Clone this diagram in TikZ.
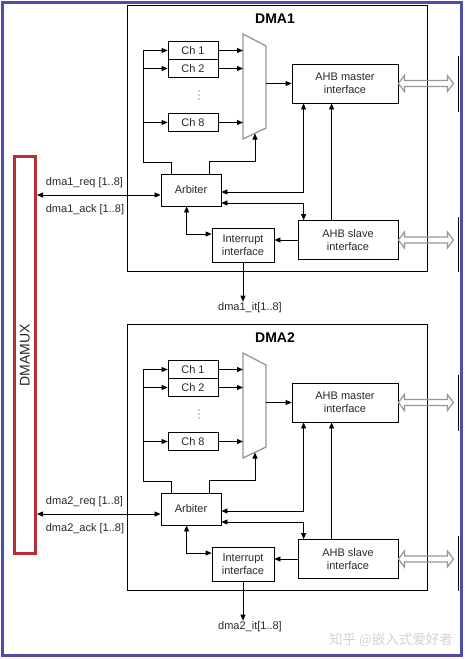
\documentclass[tikz,border=0pt]{standalone}
\usepackage{fontspec}
\setmainfont{Liberation Sans}
\newfontfamily\cjkfont{Noto Sans CJK SC}
\definecolor{myBlue}{RGB}{78,78,168}
\definecolor{myRed}{RGB}{185,45,55}
\definecolor{myGray}{RGB}{150,150,150}
\definecolor{myText}{RGB}{40,40,40}
\usetikzlibrary{arrows.meta,positioning}

\begin{document}
\begin{tikzpicture}[x=1pt,y=-1pt,
    font=\fontsize{11}{13}\selectfont,
    every node/.style={text=myText},
    blk/.style={draw,line width=0.8pt,inner sep=0pt,align=center},
    arr/.style={line width=0.8pt,-{Triangle[length=6pt,width=5pt]}},
    darr/.style={line width=0.8pt,{Triangle[length=6pt,width=5pt]}-{Triangle[length=6pt,width=5pt]}},
    bus/.style={draw=myGray,line width=1.2pt},
    lbl/.style={inner sep=1pt}]
                \useasboundingbox (0,0) rectangle (464,659);
                \draw[myBlue,line width=3pt] (2.5,2.5) rectangle (461,655.5);

                % DMAMUX
                \node[draw=myRed,line width=3pt,minimum width=21pt,minimum height=397pt,inner sep=0pt] (dmamux) at (25,355) {};
                \node[rotate=90,font=\fontsize{14}{16}\selectfont] (muxname) at (dmamux.center) {DMAMUX};

                \foreach \i/\dy in {1/0,2/319}{
                \begin{scope}[yshift=-\dy pt]
                    \node[blk,minimum width=300pt,minimum height=266pt] (dma-\i) at (277,138) {};
                    \node[font=\bfseries\fontsize{14}{16}\selectfont,text=black] (dmaname-\i) at (275,19) {DMA\i};

                    % channels
                    \node[blk,minimum width=50pt,minimum height=18pt] (ch1-\i) at (193,50.5) {Ch 1};
                    \node[blk,minimum width=50pt,minimum height=18pt] (ch2-\i) at (193,68.5) {Ch 2};
                    \fill[myText] (199,91) circle (0.6) (199,95) circle (0.6) (199,99) circle (0.6);
                    \node[blk,minimum width=50pt,minimum height=18pt] (ch8-\i) at (193,122.5) {Ch 8};

                    % multiplexer
                    \draw[draw=myGray,line width=1.3pt] (243,34) -- (266,46) -- (266,128) -- (243,139) -- cycle;
                    \coordinate (muxin-\i) at (243,84);
                    \coordinate (muxout-\i) at (266,83.5);
                    \coordinate (muxsel-\i) at (255,133.5);

                    \node[blk,minimum width=106pt,minimum height=39pt] (ahbm-\i) at (345,83.5) {AHB master\\interface};
                    \node[blk,minimum width=60pt,minimum height=32pt] (arb-\i) at (191,190) {Arbiter};
                    \node[blk,minimum width=62pt,minimum height=34pt] (intr-\i) at (243,245) {Interrupt\\interface};
                    \node[blk,minimum width=100pt,minimum height=39pt] (ahbs-\i) at (348,240) {AHB slave\\interface};

                    \node[lbl] (req-\i) at (84.5,183) {dma\i\_req [1..8]};
                    \node[lbl] (ack-\i) at (85,210) {dma\i\_ack [1..8]};
                    \node[lbl] (it-\i) at (250,308) {dma\i\_it[1..8]};

                    % arbiter to channels
                    \coordinate (bus-\i) at (143,162);
                    \draw[arr] ([xshift=11pt]arb-\i.north west) |- (bus-\i) |- (ch1-\i.west);
                    \draw[arr] (bus-\i |- ch2-\i.west) -- (ch2-\i.west);
                    \draw[arr] (bus-\i |- ch8-\i.west) -- (ch8-\i.west);

                    % channels to mux
                    \draw[arr] (ch1-\i.east) -- (ch1-\i.east -| muxin-\i);
                    \draw[arr] (ch2-\i.east) -- (ch2-\i.east -| muxin-\i);
                    \draw[arr] (ch8-\i.east) -- (ch8-\i.east -| muxin-\i);
                    \draw[arr] (muxout-\i) -- (ahbm-\i.west);
                    \coordinate (selbend-\i) at (255,161);
                    \draw[arr] ([xshift=-12pt]arb-\i.north east) |- (selbend-\i) -- (muxsel-\i);

                    % arbiter and AHB
                    \draw[darr] ([yshift=-2pt]arb-\i.east) -| ([xshift=12pt]ahbm-\i.south west);
                    \draw[darr] ([yshift=-13pt]arb-\i.east) -| ([xshift=6pt]ahbs-\i.north west);
                    \coordinate (s2m-\i) at ([xshift=34pt]ahbs-\i.north west);
                    \draw[arr] (s2m-\i) -- (s2m-\i |- ahbm-\i.south);

                    % interrupts
                    \draw[darr] ([xshift=26pt]arb-\i.south west) |- ([yshift=11pt]intr-\i.west);
                    \draw[arr] (ahbs-\i.west) -- (ahbs-\i.west -| intr-\i.east);
                    \draw[arr] (intr-\i.south) -- (intr-\i.south |- it-\i.north);

                    % request / acknowledge
                    \coordinate (reqpt-\i) at ([yshift=-5pt]arb-\i.west);
                    \draw[darr] (dmamux.east |- reqpt-\i) -- (reqpt-\i);

                    % system buses
                    \draw[bus] (ahbm-\i.east) -- ++(6,-8) -- ++(0,5) -- ++(43,0) -- ++(0,-5) -- ++(6,8) -- ++(-6,8) -- ++(0,-5) -- ++(-43,0) -- ++(0,5) -- cycle;
                    \draw[bus] (ahbs-\i.east) -- ++(6,-8) -- ++(0,5) -- ++(43,0) -- ++(0,-5) -- ++(6,8) -- ++(-6,8) -- ++(0,-5) -- ++(-43,0) -- ++(0,5) -- cycle;
                    \draw[line width=1pt] ([xshift=60pt,yshift=28pt]ahbm-\i.east) -- ++(0,56);
                    \draw[line width=1pt] ([xshift=60pt,yshift=23pt]ahbs-\i.east) -- ++(0,55);
                \end{scope}
                }

                \node[text=gray!35,font=\cjkfont\fontsize{13.5}{15}\selectfont] (mark) at (391,640) {知乎 @嵌入式爱好者};
            \end{tikzpicture}
\end{document}
